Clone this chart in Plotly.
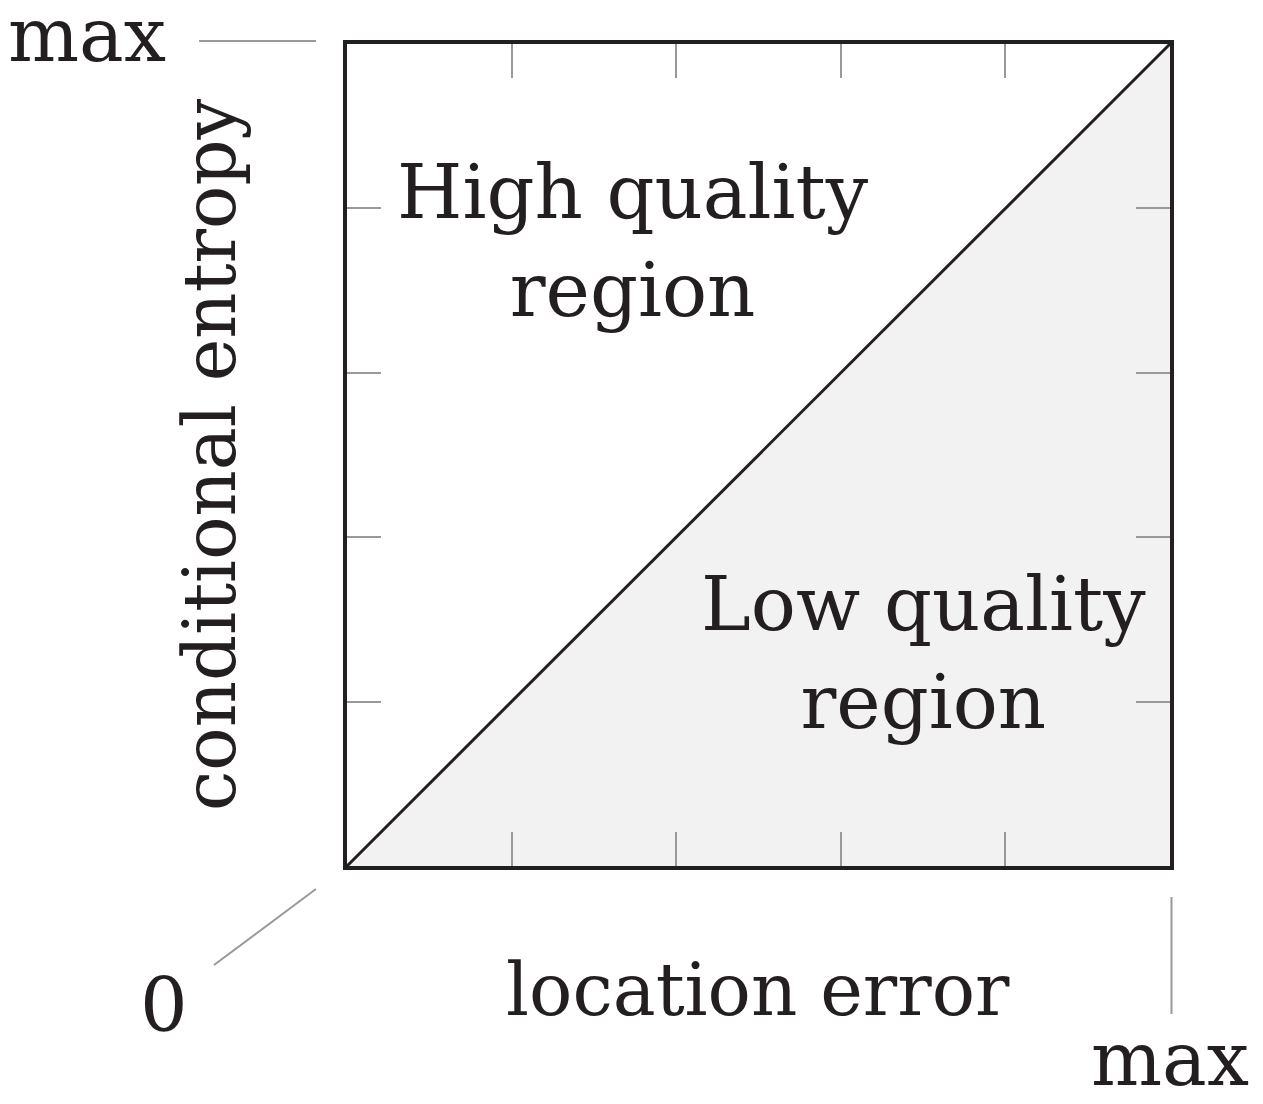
import plotly.graph_objects as go

# regions of the quality diagram (normalised axes, 0 .. max)
low_region_x = [0, 1, 1, 0]
low_region_y = [0, 0, 1, 0]
boundary_x = [0, 1]
boundary_y = [0, 1]
tick_vals = [0.2, 0.4, 0.6, 0.8]

INK = "#231f20"
GRAY = "#999999"
FONT = "DejaVu Serif"

fig = go.Figure()
fig.add_trace(go.Scatter(
    x=low_region_x, y=low_region_y,
    mode="lines", fill="toself", fillcolor="#f2f2f2",
    line=dict(width=0), hoverinfo="skip", showlegend=False
))
fig.add_trace(go.Scatter(
    x=boundary_x, y=boundary_y,
    mode="lines", line=dict(color=INK, width=3),
    hoverinfo="skip", showlegend=False
))

axis_style = dict(
    range=[0, 1], tickvals=tick_vals, showticklabels=False,
    ticks="inside", ticklen=34, tickwidth=2, tickcolor=GRAY,
    showline=True, linecolor=INK, linewidth=3.5, mirror="ticks",
    showgrid=False, zeroline=False, fixedrange=True,
)
fig.update_xaxes(**axis_style)
fig.update_yaxes(**axis_style)

# gray leader lines for the axis end labels
leaders = [
    (-0.1798, 1.0036, -0.0377, 1.0036),
    (-0.1616, -0.1204, -0.0377, -0.028),
    (1.0018, -0.0377, 1.0018, -0.18),
]
for x0, y0, x1, y1 in leaders:
    fig.add_shape(type="line", xref="paper", yref="paper",
                  x0=x0, y0=y0, x1=x1, y1=y1,
                  line=dict(color=GRAY, width=2))

labels = [
    dict(text="High quality<br>region", x=0.3475, y=0.7609, size=75),
    dict(text="Low quality<br>region", x=0.701, y=0.2591, size=75),
    dict(text="location error", x=0.4994, y=-0.1509, size=72),
    dict(text="conditional entropy", x=-0.1665, y=0.5, size=72, textangle=-90),
    dict(text="max", x=-0.2175, y=1.0109, size=75, xanchor="right"),
    dict(text="0", x=-0.2224, y=-0.1691, size=75),
    dict(text="max", x=1.0006, y=-0.2348, size=75),
]
for lab in labels:
    fig.add_annotation(
        xref="paper", yref="paper", showarrow=False,
        xanchor=lab.get("xanchor", "center"), yanchor="middle",
        x=lab["x"], y=lab["y"], text=lab["text"],
        textangle=lab.get("textangle", 0),
        font=dict(family=FONT, size=lab["size"], color=INK),
    )

fig.update_layout(
    width=1255, height=1096,
    margin=dict(l=339, r=93, t=36, b=238),
    paper_bgcolor="white", plot_bgcolor="white",
    showlegend=False,
)

fig.write_html("out.html")
